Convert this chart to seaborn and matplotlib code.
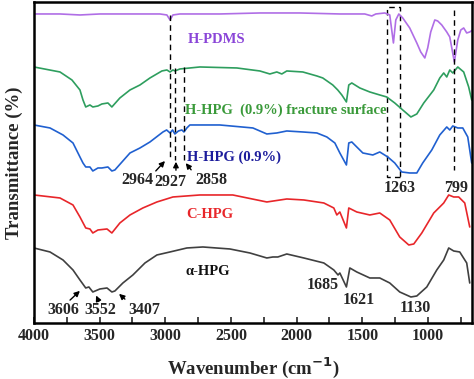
import numpy as np
import pandas as pd
import matplotlib
matplotlib.use("Agg")
import matplotlib.pyplot as plt
import seaborn as sns
from matplotlib.patches import Rectangle

# spectra (wavenumber cm-1, transmittance a.u. with offsets)
pdms_wn = [4000, 3802, 3650, 3498, 3269, 3041, 2988, 2964, 2942, 2889, 2585, 2280, 1976, 1671, 1481, 1428, 1397, 1329, 1291, 1263,
           1245, 1222, 1192, 1139, 1085, 1055, 1024, 1002, 979, 948, 926, 895, 857, 834, 799, 773, 750, 728, 705, 682, 659]
pdms_t = [309, 309, 308, 309, 309, 309, 308, 303, 308, 309, 309, 310, 310, 309, 309, 307, 309, 310, 308, 280,
          303, 309, 305, 295, 280, 271, 265, 275, 291, 303, 302, 298, 291, 286, 261, 283, 293, 295, 290, 291, 293]

frac_wn = [4000, 3802, 3711, 3650, 3627, 3606, 3574, 3552, 3513, 3483, 3437, 3407, 3346, 3269, 3193, 3117, 3026, 2988, 2964, 2942,
           2927, 2889, 2813, 2737, 2455, 2280, 2204, 2151, 2113, 2075, 1953, 1846, 1801, 1725, 1687, 1656, 1621, 1603, 1580, 1519,
           1443, 1367, 1314, 1253, 1192, 1130, 1085, 1032, 956, 910, 880, 857, 834, 811, 773, 728, 690, 667]
frac_t = [256, 251, 243, 233, 223, 216, 218, 216, 217, 219, 220, 216, 225, 233, 238, 245, 252, 253, 251, 253,
          252, 254, 255, 256, 255, 252, 249, 251, 249, 252, 251, 247, 245, 238, 233, 228, 221, 238, 240, 235,
          231, 228, 226, 220, 213, 206, 209, 220, 233, 245, 250, 246, 253, 250, 256, 251, 236, 223]

hhpg_wn = [4000, 3878, 3779, 3703, 3650, 3627, 3606, 3574, 3552, 3513, 3483, 3437, 3407, 3384, 3330, 3269, 3193, 3117, 3018, 2990,
           2964, 2945, 2927, 2900, 2874, 2858, 2836, 2813, 2585, 2333, 2227, 2151, 2075, 1953, 1846, 1770, 1709, 1671, 1621, 1603,
           1580, 1542, 1496, 1420, 1367, 1306, 1253, 1200, 1139, 1085, 1040, 971, 910, 857, 834, 811, 773, 735, 697, 667]
hhpg_t = [198, 195, 188, 180, 166, 160, 156, 156, 152, 155, 155, 156, 152, 153, 161, 170, 175, 181, 191, 193,
          190, 193, 189, 192, 193, 191, 195, 198, 198, 195, 189, 190, 192, 191, 190, 186, 180, 170, 158, 180,
          181, 176, 170, 168, 171, 166, 160, 151, 150, 150, 160, 173, 188, 196, 193, 197, 195, 195, 186, 160]

chpg_wn = [4000, 3802, 3703, 3650, 3606, 3574, 3552, 3513, 3444, 3407, 3346, 3269, 3171, 3064, 2942, 2737, 2486, 2227, 2075, 1945,
           1793, 1717, 1694, 1671, 1621, 1603, 1542, 1443, 1367, 1291, 1215, 1146, 1108, 1047, 956, 895, 880, 842, 804, 766,
           720, 682]
chpg_t = [128, 125, 118, 106, 95, 94, 90, 93, 94, 90, 100, 108, 115, 121, 126, 128, 128, 121, 124, 123,
          120, 115, 108, 111, 95, 115, 111, 108, 110, 103, 86, 78, 79, 90, 110, 118, 120, 128, 126, 126,
          120, 96]

ahpg_wn = [4000, 3878, 3779, 3703, 3650, 3606, 3582, 3552, 3498, 3444, 3407, 3384, 3323, 3247, 3155, 3064, 2965, 2836, 2714, 2508,
           2356, 2227, 2181, 2143, 2075, 1945, 1793, 1717, 1685, 1671, 1621, 1595, 1542, 1443, 1367, 1291, 1215, 1130, 1085, 1009,
           933, 880, 842, 804, 758, 705, 682]
ahpg_t = [75, 71, 63, 53, 43, 35, 36, 31, 34, 35, 31, 32, 40, 48, 60, 68, 71, 75, 76, 74,
          70, 65, 66, 66, 69, 65, 60, 53, 48, 50, 36, 55, 51, 45, 45, 40, 31, 26, 27, 36,
          53, 63, 75, 72, 71, 60, 40]

names = ["H-PDMS", "H-HPG  (0.9%) fracture surface", "H-HPG (0.9%)", "C-HPG", "\u03b1-HPG"]
line_colors = ["#b06ee6", "#2e9e5e", "#2060d0", "#e8262a", "#404040"]
text_colors = ["#8a45d8", "#3a9a3a", "#1c1c9c", "#e8262a", "#111111"]

sns.set_style("ticks")
plt.rcParams['font.family'] = ['Liberation Serif', 'DejaVu Serif']
plt.rcParams['font.weight'] = 'bold'

fig = plt.figure(figsize=(4.74, 3.79), dpi=100)
ax = fig.add_axes([0.0717, 0.1478, 0.924, 0.847])

curves = [(pdms_wn, pdms_t), (frac_wn, frac_t), (hhpg_wn, hhpg_t), (chpg_wn, chpg_t), (ahpg_wn, ahpg_t)]
for (wn, t), c in zip(curves, line_colors):
    df = pd.DataFrame({"wn": wn, "t": t})
    sns.lineplot(data=df, x="wn", y="t", color=c, lw=1.2, estimator=None, ax=ax)

ax.set_xlim(4000, 665)
ax.set_ylim(0, 321)
ax.set_xticks([4000, 3500, 3000, 2500, 2000, 1500, 1000])
ax.set_xticks(np.arange(3750, 600, -500), minor=True)
ax.set_yticks([])
ax.tick_params(axis='x', which='both', direction='in', length=4, width=1.2, labelsize=11.5)
for lab in ax.get_xticklabels():
    lab.set_fontweight('bold')
for s in ax.spines.values():
    s.set_linewidth(1.8)
    s.set_color('black')
ax.set_xlabel("Wavenumber (cm$^{\\mathbf{-1}}$)", fontsize=13.5, fontweight='bold', labelpad=8)
ax.set_ylabel("Transmittance (%)", fontsize=13.5, fontweight='bold', labelpad=8)

# curve labels
lab_pos = [(2607, 283, 'center'), (2851, 213, 'left'), (2836, 166, 'left'), (2843, 108, 'left'), (2843, 51, 'left')]
for n, (x, y, ha), c in zip(names, lab_pos, text_colors):
    ax.text(x, y, n, color=c, fontsize=10.5, fontweight='bold', ha=ha, va='center')

# dashed guide lines
dash = dict(color='black', lw=1.0, ls=(0, (4, 3)))
ax.plot([2964, 2964], [308, 166], **dash)
ax.plot([2927, 2927], [255, 163], **dash)
ax.plot([2858, 2858], [256, 163], **dash)
ax.plot([799, 799], [313, 153], **dash)
ax.add_patch(Rectangle((1215, 146), 1314 - 1215, 316 - 146, fill=False, **dash))

# peak labels with arrows
arr = dict(arrowstyle='-|>', color='black', lw=1.0, mutation_scale=8)
peaks = [("2964", (3216, 143), (2988, 164), (3087, 150)),
         ("2927", (2965, 141), (2919, 164), (2919, 150)),
         ("2858", (2653, 143), (2858, 162), (2790, 151)),
         ("3606", (3779, 13), (3635, 34), (3741, 21)),
         ("3552", (3498, 13), (3536, 30), (3498, 19)),
         ("3407", (3163, 13), (3368, 31), (3292, 22))]
for txt, tp, head, tail in peaks:
    ax.text(tp[0], tp[1], txt, fontsize=11.5, fontweight='bold', ha='center', va='center')
    ax.annotate("", xy=head, xytext=tail, arrowprops=arr)

for txt, x, y in [("1263", 1215, 135), ("799", 789, 135), ("1685", 1801, 38), ("1621", 1527, 23), ("1130", 1093, 15)]:
    ax.text(x, y, txt, fontsize=11.5, fontweight='bold', ha='center', va='center')

fig.savefig("out.png", dpi=100)
